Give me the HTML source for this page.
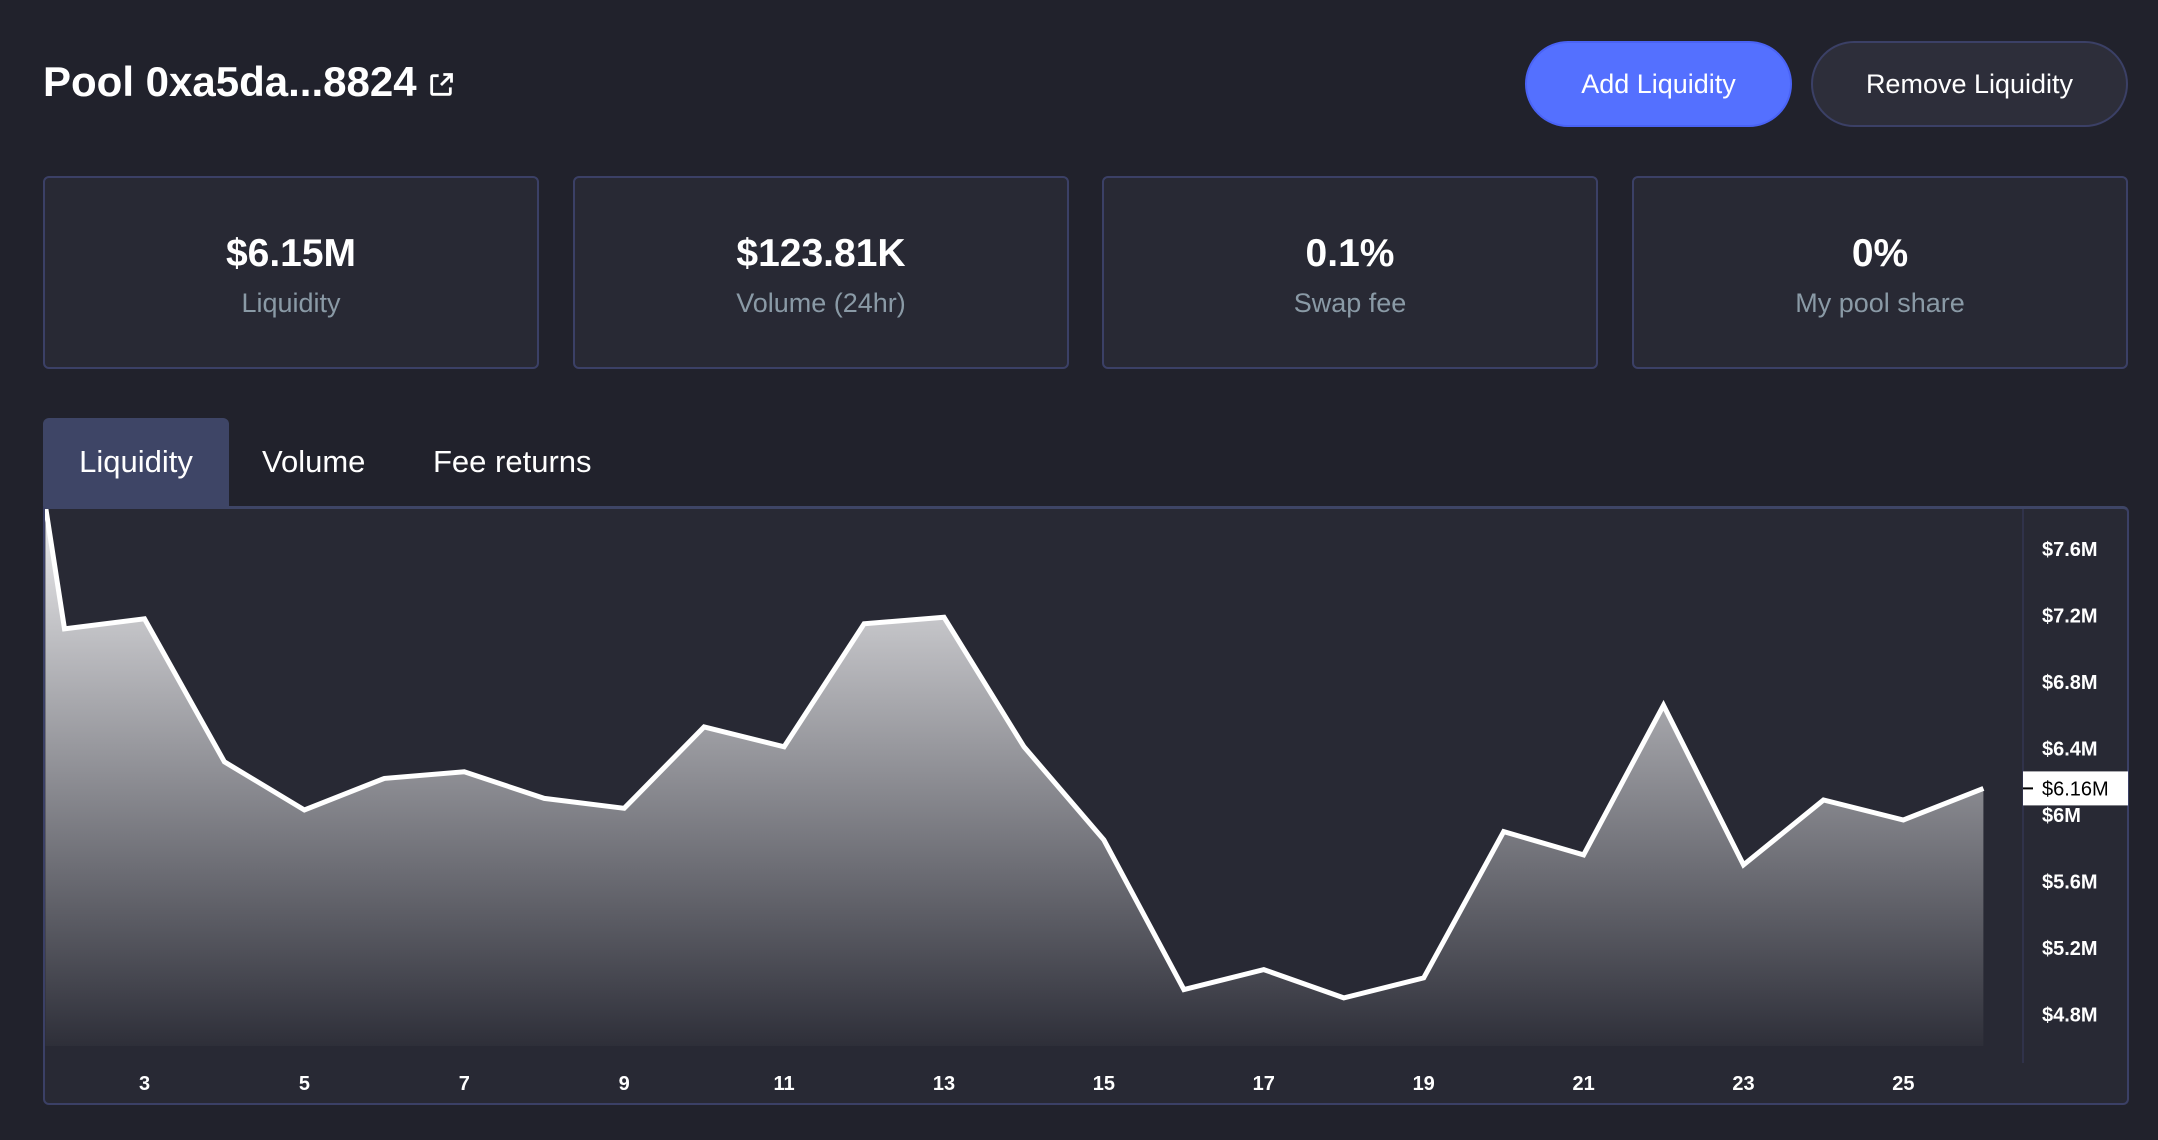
<!DOCTYPE html>
<html><head><meta charset="utf-8"><style>
*{box-sizing:border-box;margin:0;padding:0}
body{width:2158px;height:1140px;background:#21222c;font-family:"Liberation Sans",sans-serif;color:#fff;position:relative;overflow:hidden}
.title{position:absolute;left:43px;top:58px;font-size:42px;font-weight:bold;letter-spacing:0px}
.title svg{vertical-align:middle;margin-left:10px}
.btn{position:absolute;top:41px;height:86px;border-radius:43px;font-size:27px;display:flex;align-items:center;justify-content:center}
.add{left:1525px;width:267px;background:#5470ff;border:2px solid #4a63f5}
.rem{left:1811px;width:317px;background:#2d2e3a;border:2px solid #3b4066}
.card{position:absolute;top:176px;width:496px;height:193px;background:#282934;border:2px solid #3b4066;border-radius:6px;text-align:center}
.card .v{margin-top:54px;font-size:39px;font-weight:bold}
.card .l{margin-top:12px;font-size:27px;color:#8a9aa6}
.tab{position:absolute;top:418px;height:88px;font-size:31px;display:flex;align-items:center}
#frame{position:absolute;left:43px;top:506px;width:2086px;height:599px;background:#282934;border:2px solid #3b4066;border-top:3px solid #3e4566;border-radius:0 6px 6px 6px}
svg text{font-family:"Liberation Sans",sans-serif;font-weight:bold;font-size:20px;fill:#fff}
</style></head><body>
<div class="title">Pool 0xa5da...8824<svg width="28" height="28" viewBox="0 0 24 24" fill="none" stroke="#fff" stroke-width="2.4"><path d="M10 4H5a1 1 0 0 0-1 1v14a1 1 0 0 0 1 1h14a1 1 0 0 0 1-1v-5"/><path d="M14 3h7v7M21 3l-9 9"/></svg></div>
<div class="btn add">Add Liquidity</div>
<div class="btn rem">Remove Liquidity</div>
<div class="card" style="left:43px"><div class="v">$6.15M</div><div class="l">Liquidity</div></div>
<div class="card" style="left:573px"><div class="v">$123.81K</div><div class="l">Volume (24hr)</div></div>
<div class="card" style="left:1102px"><div class="v">0.1%</div><div class="l">Swap fee</div></div>
<div class="card" style="left:1632px"><div class="v">0%</div><div class="l">My pool share</div></div>
<div class="tab" style="left:43px;width:186px;background:#3e4566;border-radius:6px 6px 0 0;justify-content:center">Liquidity</div>
<div class="tab" style="left:262px">Volume</div>
<div class="tab" style="left:433px">Fee returns</div>
<div id="frame"></div>
<svg id="chart" style="position:absolute;left:0;top:0" width="2158" height="1140">
<defs><linearGradient id="g" x1="0" y1="0" x2="0" y2="1"><stop offset="0" stop-color="#ededef"/><stop offset="1" stop-color="#2e2f39"/></linearGradient>
<clipPath id="cp"><rect x="45" y="509" width="1978" height="540"/></clipPath></defs>
<g id="plot" clip-path="url(#cp)"></g><g id="axes"></g>
</svg>
<script>
const days=[1.76,2,3,4,5,6,7,8,9,10,11,12,13,14,15,16,17,18,19,20,21,22,23,24,25,26];
const values=[7.86,7.12,7.18,6.32,6.03,6.22,6.26,6.10,6.04,6.53,6.41,7.15,7.19,6.41,5.85,4.95,5.07,4.90,5.02,5.90,5.76,6.66,5.70,6.09,5.97,6.16];
const xTicks=[3,5,7,9,11,13,15,17,19,21,23,25];
const yTicks=[4.8,5.2,5.6,6.0,6.4,6.8,7.2,7.6];
const yTickLabels=["$4.8M","$5.2M","$5.6M","$6M","$6.4M","$6.8M","$7.2M","$7.6M"];
const currentLabel="$6.16M";
const X=d=>144.5+(d-3)*79.95;
const Y=v=>549+(7.6-v)/0.4*66.5;
const NS="http://www.w3.org/2000/svg";
const plot=document.getElementById('plot'),axes=document.getElementById('axes');
const base=1046;
let pts=days.map((d,i)=>X(d).toFixed(1)+','+Y(values[i]).toFixed(1));
const area=document.createElementNS(NS,'path');
area.setAttribute('d','M'+X(days[0])+','+base+' L'+pts.join(' L')+' L'+X(days[days.length-1])+','+base+'Z');
area.setAttribute('fill','url(#g)');


plot.appendChild(area);
const line=document.createElementNS(NS,'polyline');
line.setAttribute('points',pts.join(' '));
line.setAttribute('fill','none');line.setAttribute('stroke','#fff');line.setAttribute('stroke-width','5');line.setAttribute('stroke-linejoin','miter');


plot.appendChild(line);
const ax=document.createElementNS(NS,'line');
ax.setAttribute('x1',2023);ax.setAttribute('x2',2023);ax.setAttribute('y1',509);ax.setAttribute('y2',1063);ax.setAttribute('stroke','#30324a');ax.setAttribute('stroke-width','2');


axes.appendChild(ax);
yTicks.forEach((v,i)=>{const t=document.createElementNS(NS,'text');
t.setAttribute('x',2042);t.setAttribute('y',Y(v)+7);t.textContent=yTickLabels[i];


axes.appendChild(t);});
xTicks.forEach(d=>{const t=document.createElementNS(NS,'text');
t.setAttribute('x',X(d));t.setAttribute('y',1090);t.setAttribute('text-anchor','middle');t.textContent=d;


axes.appendChild(t);});
const cv=values[values.length-1],cy=Y(cv);
const r=document.createElementNS(NS,'rect');
r.setAttribute('x',2023);r.setAttribute('y',cy-17);r.setAttribute('width',105);r.setAttribute('height',34);r.setAttribute('fill','#fff');


axes.appendChild(r);
const tk=document.createElementNS(NS,'line');
tk.setAttribute('x1',2023);tk.setAttribute('x2',2033);tk.setAttribute('y1',cy);tk.setAttribute('y2',cy);tk.setAttribute('stroke','#000');tk.setAttribute('stroke-width','2');


axes.appendChild(tk);
const ct=document.createElementNS(NS,'text');
ct.setAttribute('x',2042);ct.setAttribute('y',cy+7);ct.setAttribute('style','fill:#000;font-weight:normal');ct.textContent=currentLabel;


axes.appendChild(ct);
</script>
</body></html>
